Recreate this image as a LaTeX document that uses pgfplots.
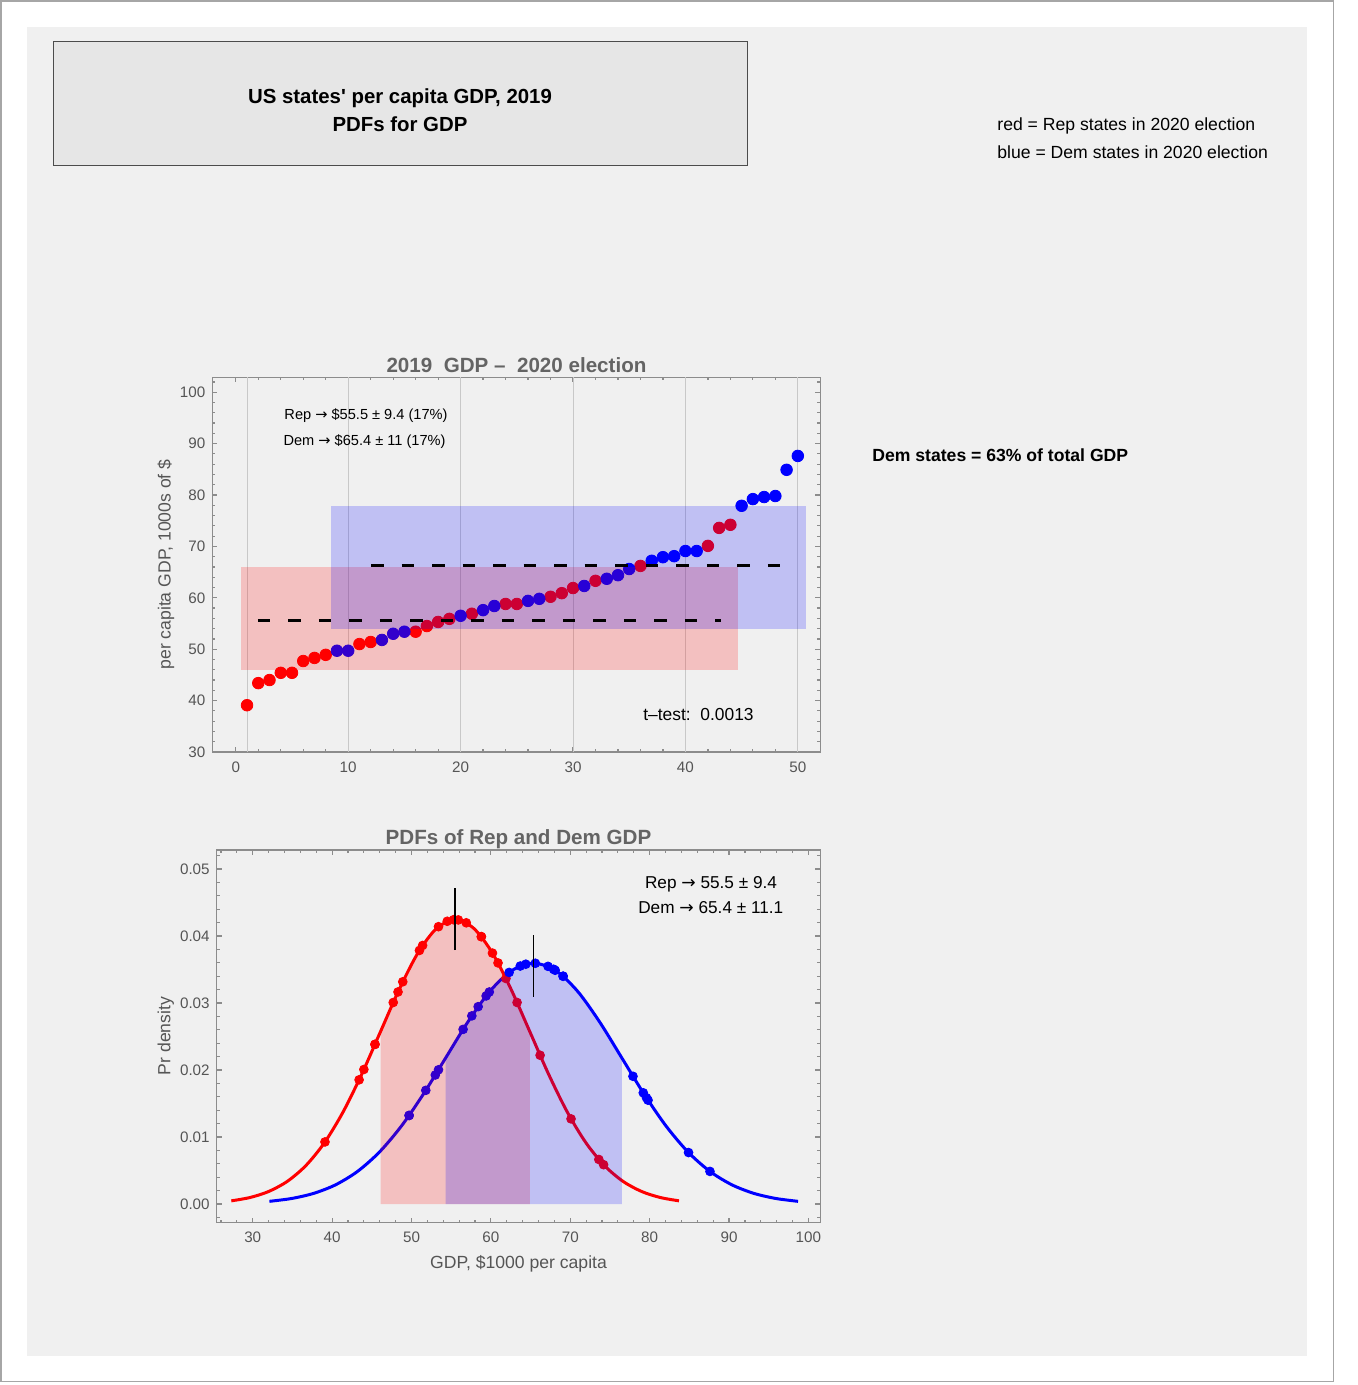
\documentclass[border=0pt]{standalone}
\usepackage{fontspec}
\setmainfont{Liberation Sans}
\newfontfamily\arrowfont{DejaVu Sans}
\newcommand{\rarr}{{\arrowfont →}}
\usepackage{pgfplots}
\pgfplotsset{compat=1.18}
\definecolor{panelbg}{RGB}{240,240,240}
\definecolor{titlebg}{RGB}{230,230,230}
\definecolor{framegray}{RGB}{140,140,140}
\definecolor{labgray}{RGB}{85,85,85}
\definecolor{titlegray}{RGB}{100,100,100}
\definecolor{gridgray}{RGB}{200,200,200}
\pgfplotsset{mma/.style={
  scale only axis, anchor=south west, clip mode=individual,
  axis line style={framegray, line width=0.7pt},
  tick style={framegray, line width=0.6pt},
  major tick length=2.5pt, minor tick length=1.5pt,
  tick align=inside,
  ticklabel style={font=\fontsize{7.6}{9}\selectfont, text=labgray},
  /pgf/number format/assume math mode=true,
}}
\begin{document}
\begin{tikzpicture}
\path[use as bounding box] (0,0) rectangle (679pt,692.5pt);
\fill[white] (0,0) rectangle (679pt,692.5pt);
\begin{scope}[x=0.5pt,y=-0.5pt,shift={(0pt,692.5pt)}]
 \draw[black!35, line width=0.6pt] (1,1) rectangle (1333.3,1381.7);
 \fill[panelbg] (27,27) rectangle (1306.7,1356);
 \filldraw[fill=titlebg, draw=black!70, line width=0.5pt] (53,41.7) rectangle (747,166);
\end{scope}

% ---------- top panel ----------
\begin{axis}[mma, at={(106.15pt,316.5pt)}, width=304pt, height=187.35pt,
  xmin=-2.09, xmax=52.0, ymin=30, ymax=102.9,
  xtick={0,10,20,30,40,50}, ytick={30,40,50,60,70,80,90,100},
  minor xtick={2,4,...,48}, minor ytick={32,34,...,102},
  xticklabel style={yshift=-1.5pt}]
 \pgfplotsinvokeforeach{1,10,20,30,40,50}{\draw[gridgray, line width=0.5pt] (axis cs:#1,30) -- (axis cs:#1,102.9);}
 \addplot[only marks, mark=*, mark size=2.9pt, color=red] coordinates {
  (1,39.1)(2,43.4)(3,44.0)(4,45.4)(5,45.4)(6,47.7)(7,48.3)(8,48.9)(11,51.0)(12,51.4)
  (16,53.4)(17,54.5)(18,55.3)(19,55.9)(21,56.9)(24,58.8)(25,58.8)(28,60.2)(29,60.9)
  (30,61.9)(32,63.3)(36,66.2)(42,70.1)(43,73.6)(44,74.2)};
 \addplot[only marks, mark=*, mark size=2.9pt, color=blue] coordinates {
  (9,49.7)(10,49.7)(13,51.8)(14,53.0)(15,53.4)(20,56.5)(22,57.6)(23,58.4)(26,59.4)
  (27,59.8)(31,62.3)(33,63.7)(34,64.4)(35,65.6)(37,67.2)(38,67.9)(39,68.1)(40,69.1)
  (41,69.1)(45,77.9)(46,79.2)(47,79.6)(48,79.8)(49,84.9)(50,87.6)};
 \addplot[draw=none, fill=red, fill opacity=0.2] coordinates {(0.47,45.9)(44.67,45.9)(44.67,65.9)(0.47,65.9)} -- cycle;
 \addplot[draw=none, fill=blue, fill opacity=0.2] coordinates {(8.5,54.0)(50.7,54.0)(50.7,77.9)(8.5,77.9)} -- cycle;
 \addplot[black, line width=1.35pt, dash pattern=on 6.15pt off 9.1pt] coordinates {(1.96,55.55)(43.17,55.55)};
 \addplot[black, line width=1.35pt, dash pattern=on 6.15pt off 9.1pt] coordinates {(12.05,66.25)(48.4,66.25)};
\end{axis}

% ---------- bottom panel ----------
\begin{axis}[mma, at={(108.35pt,81.15pt)}, width=301.8pt, height=186.35pt,
  xmin=25.46, xmax=101.5, ymin=-0.00279, ymax=0.05284,
  xtick={30,40,50,60,70,80,90,100}, ytick={0,0.01,0.02,0.03,0.04,0.05},
  minor xtick={26,28,...,100},
  minor ytick={-0.002,0.002,0.004,0.006,0.008,0.012,0.014,0.016,0.018,0.022,0.024,0.026,0.028,0.032,0.034,0.036,0.038,0.042,0.044,0.046,0.048,0.052},
  scaled y ticks=false, xticklabel style={yshift=-1pt},
  yticklabel style={/pgf/number format/.cd, fixed, fixed zerofill, precision=2}]
 \addplot[red, line width=1.5pt, smooth] coordinates {
  (27.3,0.000472)(29.65,0.000967)(32.0,0.001865)(34.35,0.003377)(36.7,0.005744)(39.05,0.009179)
  (41.4,0.013779)(43.75,0.019431)(46.1,0.025742)(48.45,0.032036)(50.8,0.037454)(53.15,0.041135)
  (55.5,0.042441)(57.85,0.041135)(60.2,0.037454)(62.55,0.032036)(64.9,0.025742)(67.25,0.019431)
  (69.6,0.013779)(71.95,0.009179)(74.3,0.005744)(76.65,0.003377)(79.0,0.001865)(81.35,0.000967)(83.7,0.000472)};
 \addplot[blue, line width=1.5pt, smooth] coordinates {
  (32.1,0.000399)(34.875,0.000819)(37.65,0.001579)(40.425,0.002859)(43.2,0.004864)(45.975,0.007773)
  (48.75,0.011668)(51.525,0.016455)(54.3,0.021800)(57.075,0.027130)(59.85,0.031718)(62.625,0.034835)
  (65.4,0.035941)(68.175,0.034835)(70.95,0.031718)(73.725,0.027130)(76.5,0.021800)(79.275,0.016455)
  (82.05,0.011668)(84.825,0.007773)(87.6,0.004864)(90.375,0.002859)(93.15,0.001579)(95.925,0.000819)(98.7,0.000399)};
 \addplot[only marks, mark=*, mark size=2.2pt, color=red] coordinates {
  (39.1,0.009264)(43.4,0.018535)(44.0,0.020079)(45.4,0.023828)(45.4,0.023828)(47.7,0.030080)
  (48.3,0.031652)(48.9,0.033170)(51.0,0.037846)(51.4,0.038591)(53.4,0.041395)(54.5,0.042202)
  (55.3,0.042431)(55.9,0.042403)(56.9,0.041973)(58.8,0.039904)(58.8,0.039904)(60.2,0.037454)
  (60.9,0.035985)(61.9,0.033661)(63.3,0.030080)(66.2,0.022203)(70.1,0.012704)(73.6,0.006649)(74.2,0.005866)};
 \addplot[only marks, mark=*, mark size=2.2pt, color=blue] coordinates {
  (49.7,0.013218)(49.7,0.013218)(51.8,0.016967)(53.0,0.019257)(53.4,0.020035)(56.5,0.026063)
  (57.6,0.028078)(58.4,0.029458)(59.4,0.031056)(59.8,0.031645)(62.3,0.034566)(63.7,0.035522)
  (64.4,0.035795)(65.6,0.035935)(67.2,0.035472)(67.9,0.035041)(68.1,0.034893)(69.1,0.033998)
  (69.1,0.033998)(77.9,0.019064)(79.2,0.016595)(79.6,0.015858)(79.8,0.015494)(84.9,0.007681)(87.6,0.004864)};
 \addplot[draw=none, fill=red, fill opacity=0.2, smooth] coordinates {
  (46.1,0.025742)(48.45,0.032036)(50.8,0.037454)(53.15,0.041135)(55.5,0.042441)
  (57.85,0.041135)(60.2,0.037454)(62.55,0.032036)(64.9,0.025742)} \closedcycle;
 \addplot[draw=none, fill=blue, fill opacity=0.2, smooth] coordinates {
  (54.3,0.021800)(57.075,0.027130)(59.85,0.031718)(62.625,0.034835)(65.4,0.035941)
  (68.175,0.034835)(70.95,0.031718)(73.725,0.027130)(76.5,0.021800)} \closedcycle;
 \addplot[black, line width=0.75pt] coordinates {(55.5,0.0379)(55.5,0.0471)};
 \addplot[black, line width=0.75pt] coordinates {(65.4,0.0309)(65.4,0.0401)};
\end{axis}

% ---------- texts ----------
\begin{scope}[x=0.5pt,y=-0.5pt,shift={(0pt,692.5pt)}, every node/.style={inner sep=0pt}]
 \node[anchor=base, font=\fontsize{10.2}{12}\selectfont\bfseries] at (400,103.5) {US states\textquotesingle{} per capita GDP, 2019};
 \node[anchor=base, font=\fontsize{10.2}{12}\selectfont\bfseries] at (400,131.7) {PDFs for GDP};
 \node[anchor=base west, font=\fontsize{8.8}{10}\selectfont] at (997,131) {red = Rep states in 2020 election};
 \node[anchor=base west, font=\fontsize{8.8}{10}\selectfont] at (997,158.5) {blue = Dem states in 2020 election};
 \node[anchor=base west, font=\fontsize{8.8}{10}\selectfont\bfseries] at (872,462) {Dem states = 63\% of total GDP};
 \node[anchor=base, font=\fontsize{10.3}{12}\selectfont\bfseries, text=titlegray] at (516.5,372.3) {2019\ \ GDP –\ \ 2020 election};
 \node[anchor=base, font=\fontsize{7.3}{9}\selectfont] at (366,420) {Rep \rarr{} \$55.5 ± 9.4 (17\%)};
 \node[anchor=base, font=\fontsize{7.3}{9}\selectfont] at (364.5,446) {Dem \rarr{} \$65.4 ± 11 (17\%)};
 \node[anchor=base, font=\fontsize{8.7}{10}\selectfont] at (698.5,720.7) {t–test:\ \ 0.0013};
 \node[rotate=90, font=\fontsize{8.8}{10}\selectfont, text=labgray] at (166,564.5) {per capita GDP, 1000s of \$};
 \node[anchor=base, font=\fontsize{10.3}{12}\selectfont\bfseries, text=titlegray] at (518.5,845) {PDFs of Rep and Dem GDP};
 \node[anchor=base, font=\fontsize{8.6}{10}\selectfont] at (711,888.3) {Rep \rarr{} 55.5 ± 9.4};
 \node[anchor=base, font=\fontsize{8.6}{10}\selectfont] at (710.8,913.3) {Dem \rarr{} 65.4 ± 11.1};
 \node[rotate=90, font=\fontsize{8.8}{10}\selectfont, text=labgray] at (165.7,1036) {Pr density};
 \node[anchor=base, font=\fontsize{8.8}{10}\selectfont, text=labgray] at (518.5,1268.5) {GDP, \$1000 per capita};
\end{scope}
\end{tikzpicture}
\end{document}
